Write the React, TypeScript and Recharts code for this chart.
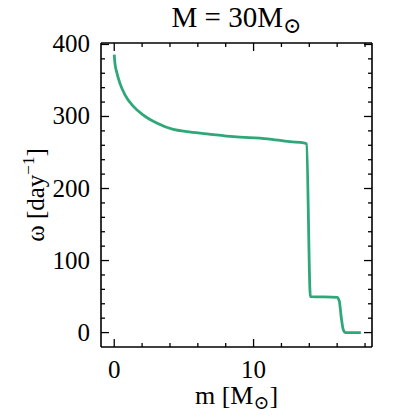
import React from 'react';
import { LineChart, Line, XAxis, YAxis } from 'recharts';

// mass coordinate m [M_sun] and angular velocity omega [day^-1]
const mass = [0, 0.05, 0.17, 0.41, 0.77, 1.37, 2.09, 3.05, 4.24, 5.2, 6.65, 8.56, 11, 12.6, 13.6, 13.8, 14.08, 16.0, 16.15, 16.3, 16.44, 16.6, 17.7];
const omega = [386, 374, 362, 346, 330, 314, 302, 291, 282, 279, 276, 272, 269, 265, 263.5, 262, 50, 49, 44, 20, 4, 0, 0];

const xTicks = [0, 2, 4, 6, 8, 10, 12, 14, 16, 18];
const xMajor = [0, 10];
const yTicks = [0, 20, 40, 60, 80, 100, 120, 140, 160, 180, 200, 220, 240, 260, 280, 300, 320, 340, 360, 380, 400];
const yMajor = [0, 100, 200, 300, 400];

const data = mass.map((m, i) => ({ m, omega: omega[i] }));

const FONT = '"Liberation Serif", "DejaVu Serif", serif';
const MAJOR = 8;
const MINOR = 4;
const LINE = '#2ea879';

const BottomTick = (props: any) => {
  const { x, y, payload } = props;
  const major = xMajor.includes(payload.value);
  return (
    <g>
      <line x1={x} y1={y} x2={x} y2={y - (major ? MAJOR : MINOR)} stroke="#000" strokeWidth={1.3} />
      {major && (
        <text x={x} y={y + 31} textAnchor="middle" fontFamily={FONT} fontSize={25} fill="#000">
          {payload.value}
        </text>
      )}
    </g>
  );
};

const TopTick = (props: any) => {
  const { x, y, payload } = props;
  const major = xMajor.includes(payload.value);
  return <line x1={x} y1={y} x2={x} y2={y + (major ? MAJOR : MINOR)} stroke="#000" strokeWidth={1.3} />;
};

const LeftTick = (props: any) => {
  const { x, y, payload } = props;
  const major = yMajor.includes(payload.value);
  return (
    <g>
      <line x1={x} y1={y} x2={x + (major ? MAJOR : MINOR)} y2={y} stroke="#000" strokeWidth={1.3} />
      {major && (
        <text x={x - 11} y={y + 8} textAnchor="end" fontFamily={FONT} fontSize={25} fill="#000">
          {payload.value}
        </text>
      )}
    </g>
  );
};

const RightTick = (props: any) => {
  const { x, y, payload } = props;
  const major = yMajor.includes(payload.value);
  return <line x1={x} y1={y} x2={x - (major ? MAJOR : MINOR)} y2={y} stroke="#000" strokeWidth={1.3} />;
};

const XLabel = (props: any) => {
  const { viewBox } = props;
  const cx = viewBox.x + viewBox.width / 2;
  return (
    <text x={cx} y={viewBox.y + 57} textAnchor="middle" fontFamily={FONT} fontSize={26} fill="#000">
      m [M<tspan fontSize={19} dy={5}>⊙</tspan><tspan dy={-5}>]</tspan>
    </text>
  );
};

const YLabel = (props: any) => {
  const { viewBox } = props;
  const cy = viewBox.y + viewBox.height / 2;
  const lx = 44;
  return (
    <text
      x={lx}
      y={cy}
      transform={`rotate(-90, ${lx}, ${cy})`}
      textAnchor="middle"
      fontFamily={FONT}
      fontSize={25}
      fill="#000"
    >
      ω [day<tspan fontSize={17} dy={-10}>−1</tspan><tspan dy={10}>]</tspan>
    </text>
  );
};

const axisLine = { stroke: '#000', strokeWidth: 1.6 };

export default function App() {
  return (
    <div style={{ position: 'absolute', left: 0, top: 0, width: 404, height: 420, background: '#fff' }}>
      <div
        style={{
          position: 'absolute',
          left: 91,
          width: 291,
          top: 1,
          textAlign: 'center',
          fontFamily: FONT,
          fontSize: 29,
          lineHeight: '32px',
          color: '#000',
          whiteSpace: 'nowrap',
        }}
      >
        M = 30M<span style={{ fontSize: 22, position: 'relative', top: 6 }}>⊙</span>
      </div>
      <LineChart width={404} height={420} data={data} margin={{ top: 42, right: 31, bottom: 13, left: 41 }}>
        <XAxis
          xAxisId="b"
          dataKey="m"
          type="number"
          domain={[-0.95, 18.5]}
          allowDataOverflow
          ticks={xTicks}
          interval={0}
          tickSize={0}
          tickMargin={0}
          tickLine={false}
          axisLine={axisLine}
          tick={<BottomTick />}
          height={60}
          label={<XLabel />}
        />
        <XAxis
          xAxisId="t"
          orientation="top"
          dataKey="m"
          type="number"
          domain={[-0.95, 18.5]}
          allowDataOverflow
          ticks={xTicks}
          interval={0}
          tickSize={0}
          tickMargin={0}
          tickLine={false}
          axisLine={axisLine}
          tick={<TopTick />}
          height={1}
        />
        <YAxis
          yAxisId="l"
          type="number"
          domain={[-20, 402]}
          allowDataOverflow
          ticks={yTicks}
          interval={0}
          tickSize={0}
          tickMargin={0}
          tickLine={false}
          axisLine={axisLine}
          tick={<LeftTick />}
          width={60}
          label={<YLabel />}
        />
        <YAxis
          yAxisId="r"
          orientation="right"
          type="number"
          domain={[-20, 402]}
          allowDataOverflow
          ticks={yTicks}
          interval={0}
          tickSize={0}
          tickMargin={0}
          tickLine={false}
          axisLine={axisLine}
          tick={<RightTick />}
          width={1}
        />
        <Line
          xAxisId="b"
          yAxisId="l"
          type="monotone"
          dataKey="omega"
          stroke={LINE}
          strokeWidth={2.8}
          dot={false}
          isAnimationActive={false}
        />
      </LineChart>
    </div>
  );
}
